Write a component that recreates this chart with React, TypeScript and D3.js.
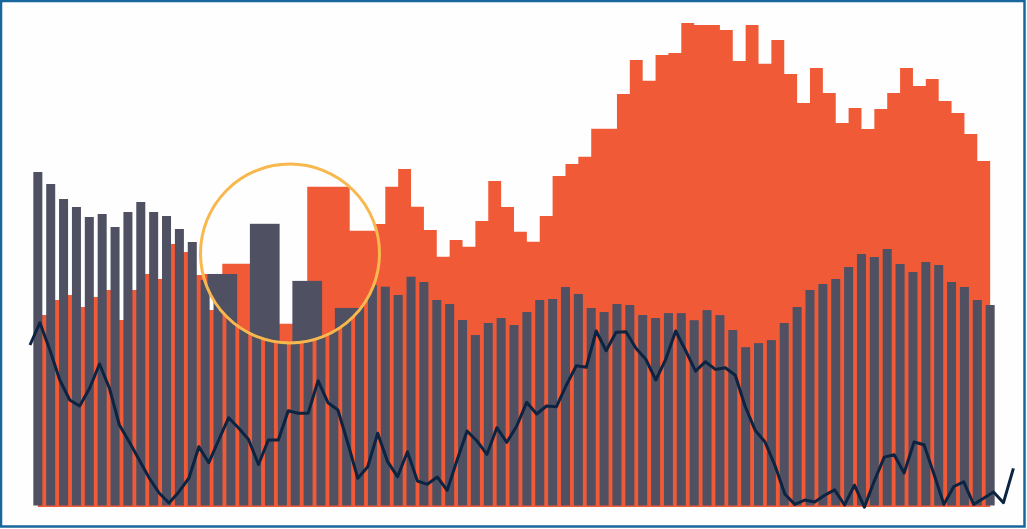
import { useEffect, useRef } from 'react';
import * as d3 from 'd3';

// heights of the narrow grey bars (one per slot)
const greyValues = [
  333.5, 321.5, 306.5, 298.5, 288.5, 291.5, 278.5, 293.5, 303.5, 293.5,
  289.5, 276.5, 263.5, 225.5, 215.5, 250.5, 255.5, 241.5, 245.8, 261,
  243.7, 235.5, 200.5, 180.5, 187.5, 205.5, 220.5, 218.8, 210.5, 228.8,
  223.5, 205.5, 201.5, 185.5, 170.5, 182.5, 187.5, 180.5, 193.5, 205.5,
  206.5, 218.5, 211.5, 197.5, 193.5, 201.5, 200.5, 190.5, 187.5, 192.4,
  192.4, 185.3, 195.4, 190.4, 175.5, 158.3, 162.4, 165.4, 182.5, 198.5,
  215.5, 221.5, 226.5, 238.5, 251.5, 248.5, 256.5, 241.5, 233.5, 243.5,
  240.5, 223.5, 218.5, 205.5, 200.5,
];

// orange step series, one value between two neighbouring bar centres
const orangeValues = [
  190.5, 205.5, 210.5, 198.5, 208.5, 215.5, 185.5, 215.5, 231.5, 226.5,
  261.5, 253.5, 230.5, 195.5, 209.5, 223.5, 237.5, 245.8, 248.9, 230.7,
  272.2, 258.9, 255.5, 263.5, 269.5, 275.5, 281.5, 318.8, 336.5, 298.8,
  275.5, 248.8, 265.5, 258.8, 284.5, 324.5, 298.5, 273.8, 263.8, 289.5,
  329.5, 341.5, 348.8, 376.8, 376.8, 411.5, 445.5, 424.8, 450.5, 452.5,
  482.6, 480.5, 480.5, 475.5, 444.5, 480.5, 441.7, 465.4, 431.5, 402.5,
  437.5, 412.5, 382.5, 397.5, 376.5, 396.5, 412.5, 437.5, 419.5, 426.5,
  404.5, 392.5, 371.5, 344.5,
];

// dark line, finer sampling than the bars
const lineValues = [
  160.5, 182.8, 155.5, 125.5, 105.5, 99.5, 117.2, 141.5, 117.2, 80.5,
  63.5, 45.5, 27.5, 12.5, 2.5, 13.8, 27.5, 58.8, 42.8, 65.5,
  87.8, 77.5, 66, 41, 65.5, 65.5, 94.8, 92.2, 92.2, 124.8,
  102.8, 95.5, 62.2, 27.2, 38.8, 72.2, 43.8, 28.8, 53.8, 24.5,
  21.2, 28.5, 15.2, 45.5, 74.5, 64.5, 51.2, 77.8, 63.2, 79.5,
  103.2, 91.5, 99.5, 98.8, 120.5, 139.8, 138.2, 174.5, 154.8, 173.2,
  173.8, 157.2, 146.2, 125.5, 146.2, 174.5, 155, 134.4, 143.8, 136.1,
  137.8, 130.3, 99, 75.3, 63.5, 39.9, 11.2, 1.1, 5.5, 3.5,
  10.2, 15.6, 0.5, 20.3, -1.6, 24.7, 48.4, 50.7, 32.5, 63.5,
  60.8, 31.5, 1.1, 19, 23.7, 1.1, 7.2, 13.6, 2.8, 37.2,
];

const WIDTH = 1027;
const HEIGHT = 529;

const ORANGE = '#f15a37';
const GREY = '#4f5163';
const NAVY = '#0c2442';
const LENS = '#f8b84e';

const LENS_X = 290;
const LENS_Y = 253.5;
const LENS_R = 89.5;
const LENS_K = 3.3;

export default function App() {
  const svgRef = useRef<SVGSVGElement>(null);

  useEffect(() => {
    if (!svgRef.current) return;
    const svg = d3.select(svgRef.current);
    svg.selectAll('*').remove();

    const y = d3.scaleLinear().domain([0, 500]).range([505.5, 5.5]);

    const x = d3
      .scaleBand<number>()
      .domain(d3.range(greyValues.length))
      .range([31.4, 996.6])
      .paddingInner(0.3)
      .paddingOuter(0.15);

    const xLine = d3.scalePoint<number>().domain(d3.range(lineValues.length)).range([30, 1013.4]);

    const centre = (i: number) => (x(i) ?? 0) + x.bandwidth() / 2;

    // step points: value i holds from centre i to centre i+1
    const stepPts = orangeValues.map((v, i) => ({ i, v }));
    stepPts.push({ i: orangeValues.length, v: orangeValues[orangeValues.length - 1] });

    const area = d3
      .area<{ i: number; v: number }>()
      .x((d) => centre(d.i))
      .y0(y(0) + 1.5)
      .y1((d) => y(d.v))
      .curve(d3.curveStepAfter);

    const line = d3
      .line<number>()
      .x((_, i) => xLine(i) ?? 0)
      .y((d) => y(d));

    svg.append('rect').attr('width', WIDTH).attr('height', HEIGHT).attr('fill', '#fefefe');

    svg
      .append('defs')
      .append('clipPath')
      .attr('id', 'lens-clip')
      .append('circle')
      .attr('cx', LENS_X)
      .attr('cy', LENS_Y)
      .attr('r', LENS_R - 1);

    const drawBars = (g: d3.Selection<SVGGElement, unknown, null, undefined>) => {
      g.append('path').datum(stepPts).attr('d', area).attr('fill', ORANGE);
      g.selectAll('rect.bar')
        .data(greyValues)
        .enter()
        .append('rect')
        .attr('class', 'bar')
        .attr('x', (_, i) => x(i) ?? 0)
        .attr('width', x.bandwidth())
        .attr('y', (d) => y(d))
        .attr('height', (d) => y(0) - y(d))
        .attr('fill', GREY);
    };

    const main = svg.append('g');
    drawBars(main);

    main
      .append('path')
      .datum(lineValues)
      .attr('d', line)
      .attr('fill', 'none')
      .attr('stroke', NAVY)
      .attr('stroke-width', 3)
      .attr('stroke-linejoin', 'round');

    // magnifier
    const lens = svg.append('g').attr('clip-path', 'url(#lens-clip)');
    lens.append('rect').attr('width', WIDTH).attr('height', HEIGHT).attr('fill', '#fefefe');
    const zoomed = lens
      .append('g')
      .attr(
        'transform',
        `translate(${LENS_X},${LENS_Y}) scale(${LENS_K}) translate(${-LENS_X},${-LENS_Y})`
      );
    drawBars(zoomed);

    svg
      .append('circle')
      .attr('cx', LENS_X)
      .attr('cy', LENS_Y)
      .attr('r', LENS_R)
      .attr('fill', 'none')
      .attr('stroke', LENS)
      .attr('stroke-width', 3);

    svg
      .append('rect')
      .attr('x', 1)
      .attr('y', 1)
      .attr('width', 1023.5)
      .attr('height', 525.5)
      .attr('fill', 'none')
      .attr('stroke', '#17679c')
      .attr('stroke-width', 2.5);
  }, []);

  return (
    <div style={{ position: 'absolute', left: 0, top: 0 }}>
      <svg ref={svgRef} width={WIDTH} height={HEIGHT} style={{ display: 'block' }} />
    </div>
  );
}
